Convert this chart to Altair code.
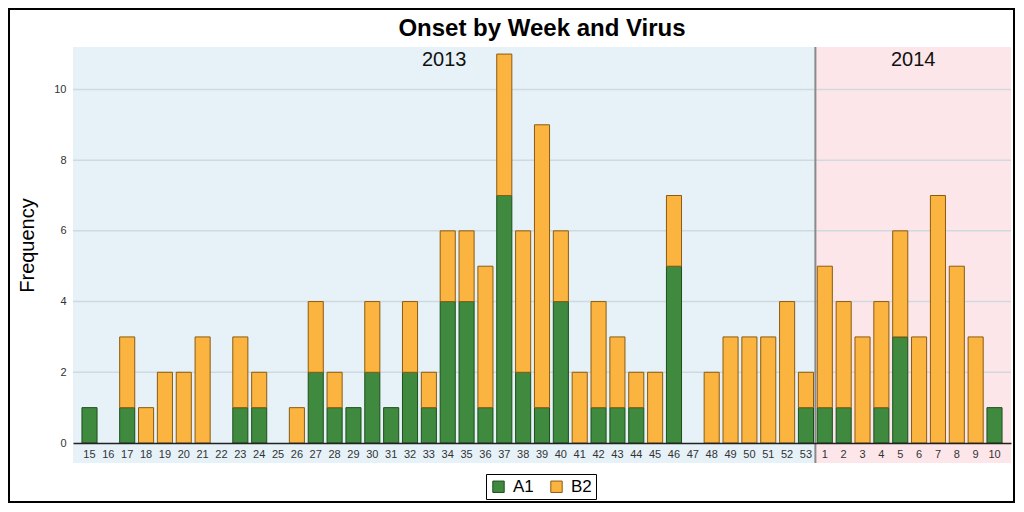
import altair as alt
import pandas as pd

FONT = "Liberation Sans"

weeks_2013 = ["15", "16", "17", "18", "19", "20", "21", "22", "23", "24", "25", "26", "27",
              "28", "29", "30", "31", "32", "33", "34", "35", "36", "37", "38", "39", "40",
              "41", "42", "43", "44", "45", "46", "47", "48", "49", "50", "51", "52", "53"]
weeks_2014 = ["1", "2", "3", "4", "5", "6", "7", "8", "9", "10"]

a1_2013 = [1, 0, 1, 0, 0, 0, 0, 0, 1, 1, 0, 0, 2, 1, 1, 2, 1, 2, 1, 4, 4, 1, 7, 2, 1, 4,
           0, 1, 1, 1, 0, 5, 0, 0, 0, 0, 0, 0, 1]
b2_2013 = [0, 0, 2, 1, 2, 2, 3, 0, 2, 1, 0, 1, 2, 1, 0, 2, 0, 2, 1, 2, 2, 4, 4, 4, 8, 2,
           2, 3, 2, 1, 2, 2, 0, 2, 3, 3, 3, 4, 1]
a1_2014 = [1, 1, 0, 1, 3, 0, 0, 0, 0, 1]
b2_2014 = [4, 3, 3, 3, 3, 3, 7, 5, 3, 0]

viruses = ["A1", "B2"]
fill_colors = ["#3f8a3f", "#fbb43f"]
edge_colors = ["#1c4f1c", "#8a5c12"]
year_names = ["2013", "2014"]
year_colors = ["#e6f1f8", "#fde6ea"]
y_ticks = [0, 2, 4, 6, 8, 10]
chart_title = "Onset by Week and Virus"

# build long table
rows = []
keys = []
for year, weeks, a1, b2 in [("2013", weeks_2013, a1_2013, b2_2013),
                            ("2014", weeks_2014, a1_2014, b2_2014)]:
    for w, va, vb in zip(weeks, a1, b2):
        k = f"{year}-{w}"
        keys.append(k)
        for i, (v, val) in enumerate(zip(viruses, [va, vb])):
            if val > 0:
                rows.append({"key": k, "virus": v, "count": val, "ord": i})
bars_df = pd.DataFrame(rows)

PAD = 0.375
n13 = len(weeks_2013)
n_all = len(keys)
total = n_all + 2 * PAD
bg_df = pd.DataFrame({
    "year": year_names,
    "start": [0, n13 + PAD],
    "end": [n13 + PAD, total],
})
bg_df["mid"] = (bg_df["start"] + bg_df["end"]) / 2
sep_df = pd.DataFrame({"sep": [n13 + PAD]})
grid_df = pd.DataFrame({"yv": y_ticks[1:]})

W, H = 938, 396
xq = alt.Scale(domain=[0, total], nice=False, zero=False)
ys = alt.Scale(domain=[0, 11.2], nice=False)

y_axis = alt.Axis(title="Frequency", values=y_ticks, grid=False, domain=False,
                  ticks=False, tickSize=0, labelPadding=7, labelFontSize=11,
                  labelFont=FONT, labelColor="#333333", titleFontSize=20,
                  titleFont=FONT, titleFontWeight="normal", titleColor="#000000",
                  titlePadding=16)

bg = alt.Chart(bg_df).mark_rect().encode(
    x=alt.X("start:Q", scale=xq, axis=None),
    x2="end:Q",
    y=alt.value(0),
    y2=alt.value(416),
    color=alt.Color("year:N", scale=alt.Scale(domain=year_names, range=year_colors), legend=None),
)

grid = alt.Chart(grid_df).mark_rule(color="#d0d9e0", strokeWidth=1.5).encode(
    y=alt.Y("yv:Q", scale=ys, axis=y_axis),
)

sep = alt.Chart(sep_df).mark_rule(color="#8a8a8a", strokeWidth=2).encode(
    x=alt.X("sep:Q", scale=xq, axis=None),
    y=alt.value(0),
    y2=alt.value(416),
)

labels = alt.Chart(bg_df).mark_text(fontSize=20, font=FONT, color="#111111").encode(
    x=alt.X("mid:Q", scale=xq, axis=None),
    y=alt.value(13),
    text="year:N",
)

title_df = pd.DataFrame({"t": [chart_title]})
title = alt.Chart(title_df).mark_text(fontSize=24, font=FONT, fontWeight="bold",
                                      color="#000000").encode(
    x=alt.value(W / 2),
    y=alt.value(-18),
    text="t:N",
)

legend_kw = dict(
    title=None, orient="none", legendX=413, legendY=427, direction="horizontal",
    symbolType="square", symbolSize=130, symbolStrokeWidth=1,
    labelFontSize=17, labelFont=FONT, labelColor="#000000",
    strokeColor="#000000", padding=4, columnPadding=14, labelOffset=6,
)

bars = alt.Chart(bars_df).mark_bar(width=alt.RelativeBandSize(0.8), strokeWidth=1).encode(
    x=alt.X("key:N", sort=keys,
            scale=alt.Scale(domain=keys, paddingInner=0, paddingOuter=PAD),
            axis=alt.Axis(title=None, labelExpr="split(datum.value, '-')[1]", labelAngle=0,
                          labelFontSize=11, labelFont=FONT, labelColor="#333333",
                          ticks=False, tickSize=0, labelPadding=5, domainColor="#222222",
                          domainWidth=1.5, zindex=1)),
    y=alt.Y("count:Q", stack="zero", scale=ys, axis=y_axis),
    fill=alt.Fill("virus:N", scale=alt.Scale(domain=viruses, range=fill_colors),
                  legend=alt.Legend(**legend_kw)),
    stroke=alt.Stroke("virus:N", scale=alt.Scale(domain=viruses, range=edge_colors),
                      legend=alt.Legend(**legend_kw)),
    order=alt.Order("ord:Q", sort="ascending"),
)

border = alt.Chart(pd.DataFrame({"b": [0]})).mark_rect(
    fill="transparent", stroke="#000000", strokeWidth=2
).encode(
    x=alt.value(-64), x2=alt.value(941), y=alt.value(-38), y2=alt.value(455),
)

chart = alt.layer(bg, grid, sep, labels, bars, title, border).resolve_scale(
    x="independent"
).properties(
    width=W, height=H, padding=0,
).configure_view(stroke=None)

chart.save("out.html", embed_options={"renderer": "svg", "actions": False})
